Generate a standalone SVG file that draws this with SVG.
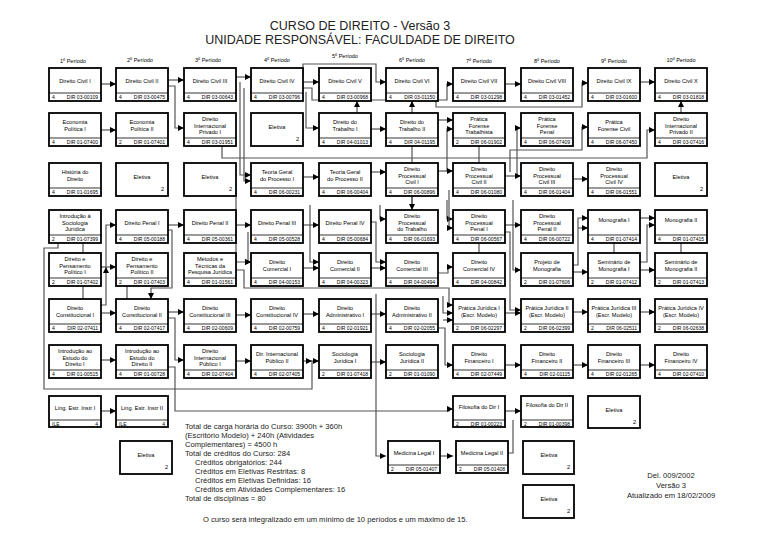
<svg xmlns="http://www.w3.org/2000/svg" width="768" height="542" viewBox="0 0 768 542">
<style>
text{font-family:"Liberation Sans",Arial,sans-serif;fill:#000}
.b{fill:#fff;stroke:#000;stroke-width:1.8}
.d{stroke:#000;stroke-width:0.8}
.t{font-size:5.6px;text-anchor:middle}
.k{font-size:5px}
.c{font-size:5px;text-anchor:end}
.e{font-size:5.6px;text-anchor:end}
.p{font-size:5.5px;text-anchor:middle}
.h{font-size:12.5px;text-anchor:middle;fill:#222}
.i{font-size:7.6px;fill:#222}
.w path{fill:none;stroke:#555;stroke-width:1.2;marker-end:url(#a)}
.w path.n{marker-end:none}
</style>
<defs><marker id="a" viewBox="0 0 6 6" refX="6" refY="3" markerWidth="5" markerHeight="5" orient="auto"><path d="M0,0L6,3L0,6Z" fill="#000"/></marker></defs>
<rect width="768" height="542" fill="#fff"/>
<text class="h" x="360" y="30">CURSO DE DIREITO - Versão 3</text>
<text class="h" x="360" y="44">UNIDADE RESPONSÁVEL: FACULDADE DE DIREITO</text>
<g id="periods">
<text class="p" x="73" y="63">1º Período</text><text class="p" x="140" y="62">2º Período</text><text class="p" x="208" y="62">3º Período</text><text class="p" x="277" y="62">4º Período</text><text class="p" x="345" y="58">5º Período</text><text class="p" x="412" y="62">6º Período</text><text class="p" x="479" y="63">7º Período</text><text class="p" x="547" y="63">8º Período</text><text class="p" x="614" y="63">9º Período</text><text class="p" x="681" y="62">10º Período</text>
</g>
<g id="connectors" class="w">
<path d="M101 84H116"/><path d="M168 80H184"/><path d="M236 77H251"/><path d="M303 82H319"/><path d="M303 75V64H376V82H386"/><path d="M303 88H312V100H447V84H453"/><path d="M505 84H521"/><path d="M430 95H436V107H582V83H588"/><path d="M640 82H655"/>
<path d="M101 130H116"/><path d="M168 86H175V128H184"/><path d="M222 146V158H647V130H655"/><path d="M681 113V101"/><path d="M306 92V128H319"/><path d="M371 129H386"/><path d="M357 113V101"/><path d="M438 120H453"/><path d="M447 172V129H453"/><path class="n" d="M479 146V163"/><path d="M517 176V128H521"/><path d="M510 172V150H582V127H588"/><path d="M412 205V101"/>
<path d="M240 82V175H251"/><path d="M244 88V181H251"/><path d="M303 177H319"/><path d="M371 172H386"/><path d="M438 171H453"/><path d="M505 176H521"/><path d="M573 179H588"/>
<path class="n" d="M83 243V253"/><path d="M101 267H116"/><path d="M106 267V225H116"/><path d="M168 225H184"/><path d="M236 225H251"/><path d="M303 225H319"/><path d="M371 222H376V262H386"/><path d="M248 232V262H251"/><path d="M310 205V262H319"/><path d="M412 196V210"/><path d="M380 205V219H386"/><path d="M447 200V219H453"/><path d="M449 190V228H453"/><path d="M505 225H521"/><path d="M505 232H510V310H521"/><path class="n" d="M479 243V253"/><path d="M640 218H655"/><path d="M573 265H578V218H588"/><path d="M578 228H588"/><path class="n" d="M614 253V243"/><path class="n" d="M681 253V243"/><path d="M640 270H655"/><path d="M640 262H647V225H655"/>
<path d="M236 270H244V288H449V305H453"/><path d="M303 268H319"/><path d="M371 268H386"/><path d="M438 273H448V267H453"/><path d="M513 200V270H521"/><path d="M573 272H588"/><path d="M230 190H236V262H251"/>
<path class="n" d="M83 286V299"/><path d="M101 313H116"/><path d="M101 305H106V267"/><path d="M168 230H172V288H151V299"/><path class="n" d="M127 286V299"/><path d="M168 312H184"/><path d="M236 315H251"/><path d="M303 314H319"/><path d="M371 314H386"/><path d="M438 328H445V365H453"/><path d="M443 296V313H453"/><path d="M443 320H453"/><path d="M505 313H521"/><path d="M573 312H588"/><path d="M640 312H655"/>
<path d="M101 360H116"/><path d="M168 318H175V360H184"/><path d="M236 361H251"/><path d="M168 367H175V411H449V409H453"/><path d="M58 243V248H44V389H312V361H319"/><path d="M303 361H312"/><path d="M371 362H386"/><path d="M505 365H521"/><path d="M573 365H588"/><path d="M640 365H655"/>
<path d="M101 411H116"/><path d="M505 411H521"/><path d="M376 294V456H386"/><path d="M438 456H453"/><path class="n" d="M505 453H513V420"/>
</g>
<g id="r1c1" transform="translate(49,68)"><rect class="b" width="52" height="33"/><line class="d" x1="0" y1="25" x2="52" y2="25"/><text class="t" x="26" y="15">Direito Civil I</text><text class="k" x="3" y="31">4</text><text class="c" x="49" y="31">DIR 03-00109</text></g>
<g id="r1c2" transform="translate(116,68)"><rect class="b" width="52" height="33"/><line class="d" x1="0" y1="25" x2="52" y2="25"/><text class="t" x="26" y="15">Direito Civil II</text><text class="k" x="3" y="31">4</text><text class="c" x="49" y="31">DIR 03-00475</text></g>
<g id="r1c3" transform="translate(184,68)"><rect class="b" width="52" height="33"/><line class="d" x1="0" y1="25" x2="52" y2="25"/><text class="t" x="26" y="15">Direito Civil III</text><text class="k" x="3" y="31">4</text><text class="c" x="49" y="31">DIR 03-00643</text></g>
<g id="r1c4" transform="translate(251,68)"><rect class="b" width="52" height="33"/><line class="d" x1="0" y1="25" x2="52" y2="25"/><text class="t" x="26" y="15">Direito Civil IV</text><text class="k" x="3" y="31">4</text><text class="c" x="49" y="31">DIR 03-00796</text></g>
<g id="r1c5" transform="translate(319,68)"><rect class="b" width="52" height="33"/><line class="d" x1="0" y1="25" x2="52" y2="25"/><text class="t" x="26" y="15">Direito Civil V</text><text class="k" x="3" y="31">4</text><text class="c" x="49" y="31">DIR 03-00968</text></g>
<g id="r1c6" transform="translate(386,68)"><rect class="b" width="52" height="33"/><line class="d" x1="0" y1="25" x2="52" y2="25"/><text class="t" x="26" y="15">Direito Civil VI</text><text class="k" x="3" y="31">4</text><text class="c" x="49" y="31">DIR 03-01150</text></g>
<g id="r1c7" transform="translate(453,68)"><rect class="b" width="52" height="33"/><line class="d" x1="0" y1="25" x2="52" y2="25"/><text class="t" x="26" y="15">Direito Civil VII</text><text class="k" x="3" y="31">4</text><text class="c" x="49" y="31">DIR 03-01298</text></g>
<g id="r1c8" transform="translate(521,68)"><rect class="b" width="52" height="33"/><line class="d" x1="0" y1="25" x2="52" y2="25"/><text class="t" x="26" y="15">Direito Civil VIII</text><text class="k" x="3" y="31">4</text><text class="c" x="49" y="31">DIR 03-01452</text></g>
<g id="r1c9" transform="translate(588,68)"><rect class="b" width="52" height="33"/><line class="d" x1="0" y1="25" x2="52" y2="25"/><text class="t" x="26" y="15">Direito Civil IX</text><text class="k" x="3" y="31">4</text><text class="c" x="49" y="31">DIR 03-01600</text></g>
<g id="r1c10" transform="translate(655,68)"><rect class="b" width="52" height="33"/><line class="d" x1="0" y1="25" x2="52" y2="25"/><text class="t" x="26" y="15">Direito Civil X</text><text class="k" x="3" y="31">4</text><text class="c" x="49" y="31">DIR 03-01818</text></g>
<g id="r2c1" transform="translate(49,113)"><rect class="b" width="52" height="33"/><line class="d" x1="0" y1="25" x2="52" y2="25"/><text class="t" x="26" y="11">Economia</text><text class="t" x="26" y="18">Política I</text><text class="k" x="3" y="31">4</text><text class="c" x="49" y="31">DIR 01-07400</text></g>
<g id="r2c2" transform="translate(116,113)"><rect class="b" width="52" height="33"/><line class="d" x1="0" y1="25" x2="52" y2="25"/><text class="t" x="26" y="11">Economia</text><text class="t" x="26" y="18">Política II</text><text class="k" x="3" y="31">2</text><text class="c" x="49" y="31">DIR 01-07401</text></g>
<g id="r2c3" transform="translate(184,113)"><rect class="b" width="52" height="33"/><line class="d" x1="0" y1="25" x2="52" y2="25"/><text class="t" x="26" y="8">Direito</text><text class="t" x="26" y="14.5">Internacional</text><text class="t" x="26" y="21">Privado I</text><text class="k" x="3" y="31">4</text><text class="c" x="49" y="31">DIR 03-01951</text></g>
<g id="r2c4" transform="translate(251,113)"><rect class="b" width="52" height="33"/><text class="t" x="26" y="16">Eletiva</text><text class="e" x="48" y="28">2</text></g>
<g id="r2c5" transform="translate(319,113)"><rect class="b" width="52" height="33"/><line class="d" x1="0" y1="25" x2="52" y2="25"/><text class="t" x="26" y="11">Direito do</text><text class="t" x="26" y="18">Trabalho I</text><text class="k" x="3" y="31">4</text><text class="c" x="49" y="31">DIR 04-01013</text></g>
<g id="r2c6" transform="translate(386,113)"><rect class="b" width="52" height="33"/><line class="d" x1="0" y1="25" x2="52" y2="25"/><text class="t" x="26" y="11">Direito do</text><text class="t" x="26" y="18">Trabalho II</text><text class="k" x="3" y="31">4</text><text class="c" x="49" y="31">DIR 04-01195</text></g>
<g id="r2c7" transform="translate(453,113)"><rect class="b" width="52" height="33"/><line class="d" x1="0" y1="25" x2="52" y2="25"/><text class="t" x="26" y="8">Prática</text><text class="t" x="26" y="14.5">Forense</text><text class="t" x="26" y="21">Trabalhista</text><text class="k" x="3" y="31">2</text><text class="c" x="49" y="31">DIR 06-01902</text></g>
<g id="r2c8" transform="translate(521,113)"><rect class="b" width="52" height="33"/><line class="d" x1="0" y1="25" x2="52" y2="25"/><text class="t" x="26" y="8">Prática</text><text class="t" x="26" y="14.5">Forense</text><text class="t" x="26" y="21">Penal</text><text class="k" x="3" y="31">4</text><text class="c" x="49" y="31">DIR 06-07409</text></g>
<g id="r2c9" transform="translate(588,113)"><rect class="b" width="52" height="33"/><line class="d" x1="0" y1="25" x2="52" y2="25"/><text class="t" x="26" y="11">Prática</text><text class="t" x="26" y="18">Forense Civil</text><text class="k" x="3" y="31">4</text><text class="c" x="49" y="31">DIR 06-07450</text></g>
<g id="r2c10" transform="translate(655,113)"><rect class="b" width="52" height="33"/><line class="d" x1="0" y1="25" x2="52" y2="25"/><text class="t" x="26" y="8">Direito</text><text class="t" x="26" y="14.5">Internacional</text><text class="t" x="26" y="21">Privado II</text><text class="k" x="3" y="31">4</text><text class="c" x="49" y="31">DIR 03-07416</text></g>
<g id="r3c1" transform="translate(49,163)"><rect class="b" width="52" height="33"/><line class="d" x1="0" y1="25" x2="52" y2="25"/><text class="t" x="26" y="11">História do</text><text class="t" x="26" y="18">Direito</text><text class="k" x="3" y="31">4</text><text class="c" x="49" y="31">DIR 01-01695</text></g>
<g id="r3c2" transform="translate(116,163)"><rect class="b" width="52" height="33"/><text class="t" x="26" y="16">Eletiva</text><text class="e" x="48" y="28">2</text></g>
<g id="r3c3" transform="translate(184,163)"><rect class="b" width="52" height="33"/><text class="t" x="26" y="16">Eletiva</text><text class="e" x="48" y="28">2</text></g>
<g id="r3c4" transform="translate(251,163)"><rect class="b" width="52" height="33"/><line class="d" x1="0" y1="25" x2="52" y2="25"/><text class="t" x="26" y="11">Teoria Geral</text><text class="t" x="26" y="18">do Processo I</text><text class="k" x="3" y="31">4</text><text class="c" x="49" y="31">DIR 06-00231</text></g>
<g id="r3c5" transform="translate(319,163)"><rect class="b" width="52" height="33"/><line class="d" x1="0" y1="25" x2="52" y2="25"/><text class="t" x="26" y="11">Teoria Geral</text><text class="t" x="26" y="18">do Processo II</text><text class="k" x="3" y="31">4</text><text class="c" x="49" y="31">DIR 06-00404</text></g>
<g id="r3c6" transform="translate(386,163)"><rect class="b" width="52" height="33"/><line class="d" x1="0" y1="25" x2="52" y2="25"/><text class="t" x="26" y="8">Direito</text><text class="t" x="26" y="14.5">Processual</text><text class="t" x="26" y="21">Civil I</text><text class="k" x="3" y="31">4</text><text class="c" x="49" y="31">DIR 06-00896</text></g>
<g id="r3c7" transform="translate(453,163)"><rect class="b" width="52" height="33"/><line class="d" x1="0" y1="25" x2="52" y2="25"/><text class="t" x="26" y="8">Direito</text><text class="t" x="26" y="14.5">Processual</text><text class="t" x="26" y="21">Civil II</text><text class="k" x="3" y="31">4</text><text class="c" x="49" y="31">DIR 06-01080</text></g>
<g id="r3c8" transform="translate(521,163)"><rect class="b" width="52" height="33"/><line class="d" x1="0" y1="25" x2="52" y2="25"/><text class="t" x="26" y="8">Direito</text><text class="t" x="26" y="14.5">Processual</text><text class="t" x="26" y="21">Civil III</text><text class="k" x="3" y="31">4</text><text class="c" x="49" y="31">DIR 06-01404</text></g>
<g id="r3c9" transform="translate(588,163)"><rect class="b" width="52" height="33"/><line class="d" x1="0" y1="25" x2="52" y2="25"/><text class="t" x="26" y="8">Direito</text><text class="t" x="26" y="14.5">Processual</text><text class="t" x="26" y="21">Civil IV</text><text class="k" x="3" y="31">4</text><text class="c" x="49" y="31">DIR 06-01551</text></g>
<g id="r3c10" transform="translate(655,163)"><rect class="b" width="52" height="33"/><text class="t" x="26" y="16">Eletiva</text><text class="e" x="48" y="28">2</text></g>
<g id="r4c1" transform="translate(49,210)"><rect class="b" width="52" height="33"/><line class="d" x1="0" y1="25" x2="52" y2="25"/><text class="t" x="26" y="8">Introdução à</text><text class="t" x="26" y="14.5">Sociologia</text><text class="t" x="26" y="21">Jurídica</text><text class="k" x="3" y="31">2</text><text class="c" x="49" y="31">DIR 01-07399</text></g>
<g id="r4c2" transform="translate(116,210)"><rect class="b" width="52" height="33"/><line class="d" x1="0" y1="25" x2="52" y2="25"/><text class="t" x="26" y="15">Direito Penal I</text><text class="k" x="3" y="31">4</text><text class="c" x="49" y="31">DIR 05-00188</text></g>
<g id="r4c3" transform="translate(184,210)"><rect class="b" width="52" height="33"/><line class="d" x1="0" y1="25" x2="52" y2="25"/><text class="t" x="26" y="15">Direito Penal II</text><text class="k" x="3" y="31">4</text><text class="c" x="49" y="31">DIR 05-00361</text></g>
<g id="r4c4" transform="translate(251,210)"><rect class="b" width="52" height="33"/><line class="d" x1="0" y1="25" x2="52" y2="25"/><text class="t" x="26" y="15">Direito Penal III</text><text class="k" x="3" y="31">4</text><text class="c" x="49" y="31">DIR 05-00528</text></g>
<g id="r4c5" transform="translate(319,210)"><rect class="b" width="52" height="33"/><line class="d" x1="0" y1="25" x2="52" y2="25"/><text class="t" x="26" y="15">Direito Penal IV</text><text class="k" x="3" y="31">4</text><text class="c" x="49" y="31">DIR 05-00684</text></g>
<g id="r4c6" transform="translate(386,210)"><rect class="b" width="52" height="33"/><line class="d" x1="0" y1="25" x2="52" y2="25"/><text class="t" x="26" y="8">Direito</text><text class="t" x="26" y="14.5">Processual</text><text class="t" x="26" y="21">do Trabalho</text><text class="k" x="3" y="31">4</text><text class="c" x="49" y="31">DIR 06-01693</text></g>
<g id="r4c7" transform="translate(453,210)"><rect class="b" width="52" height="33"/><line class="d" x1="0" y1="25" x2="52" y2="25"/><text class="t" x="26" y="8">Direito</text><text class="t" x="26" y="14.5">Processual</text><text class="t" x="26" y="21">Penal I</text><text class="k" x="3" y="31">4</text><text class="c" x="49" y="31">DIR 06-00567</text></g>
<g id="r4c8" transform="translate(521,210)"><rect class="b" width="52" height="33"/><line class="d" x1="0" y1="25" x2="52" y2="25"/><text class="t" x="26" y="8">Direito</text><text class="t" x="26" y="14.5">Processual</text><text class="t" x="26" y="21">Penal II</text><text class="k" x="3" y="31">4</text><text class="c" x="49" y="31">DIR 06-00722</text></g>
<g id="r4c9" transform="translate(588,210)"><rect class="b" width="52" height="33"/><line class="d" x1="0" y1="25" x2="52" y2="25"/><text class="t" x="26" y="12">Monografia I</text><text class="k" x="3" y="31">4</text><text class="c" x="49" y="31">DIR 01-07414</text></g>
<g id="r4c10" transform="translate(655,210)"><rect class="b" width="52" height="33"/><line class="d" x1="0" y1="25" x2="52" y2="25"/><text class="t" x="26" y="12">Monografia II</text><text class="k" x="3" y="31">4</text><text class="c" x="49" y="31">DIR 01-07415</text></g>
<g id="r5c1" transform="translate(49,253)"><rect class="b" width="52" height="33"/><line class="d" x1="0" y1="25" x2="52" y2="25"/><text class="t" x="26" y="8">Direito e</text><text class="t" x="26" y="14.5">Pensamento</text><text class="t" x="26" y="21">Político I</text><text class="k" x="3" y="31">2</text><text class="c" x="49" y="31">DIR 01-07402</text></g>
<g id="r5c2" transform="translate(116,253)"><rect class="b" width="52" height="33"/><line class="d" x1="0" y1="25" x2="52" y2="25"/><text class="t" x="26" y="8">Direito e</text><text class="t" x="26" y="14.5">Pensamento</text><text class="t" x="26" y="21">Político II</text><text class="k" x="3" y="31">2</text><text class="c" x="49" y="31">DIR 01-07403</text></g>
<g id="r5c3" transform="translate(184,253)"><rect class="b" width="52" height="33"/><line class="d" x1="0" y1="25" x2="52" y2="25"/><text class="t" x="26" y="8">Métodos e</text><text class="t" x="26" y="14.5">Técnicas da</text><text class="t" x="26" y="21">Pesquisa Jurídica</text><text class="k" x="3" y="31">4</text><text class="c" x="49" y="31">DIR 01-01561</text></g>
<g id="r5c4" transform="translate(251,253)"><rect class="b" width="52" height="33"/><line class="d" x1="0" y1="25" x2="52" y2="25"/><text class="t" x="26" y="11">Direito</text><text class="t" x="26" y="18">Comercial I</text><text class="k" x="3" y="31">4</text><text class="c" x="49" y="31">DIR 04-00153</text></g>
<g id="r5c5" transform="translate(319,253)"><rect class="b" width="52" height="33"/><line class="d" x1="0" y1="25" x2="52" y2="25"/><text class="t" x="26" y="11">Direito</text><text class="t" x="26" y="18">Comercial II</text><text class="k" x="3" y="31">4</text><text class="c" x="49" y="31">DIR 04-00323</text></g>
<g id="r5c6" transform="translate(386,253)"><rect class="b" width="52" height="33"/><line class="d" x1="0" y1="25" x2="52" y2="25"/><text class="t" x="26" y="11">Direito</text><text class="t" x="26" y="18">Comercial III</text><text class="k" x="3" y="31">4</text><text class="c" x="49" y="31">DIR 04-00494</text></g>
<g id="r5c7" transform="translate(453,253)"><rect class="b" width="52" height="33"/><line class="d" x1="0" y1="25" x2="52" y2="25"/><text class="t" x="26" y="11">Direito</text><text class="t" x="26" y="18">Comercial IV</text><text class="k" x="3" y="31">4</text><text class="c" x="49" y="31">DIR 04-00842</text></g>
<g id="r5c8" transform="translate(521,253)"><rect class="b" width="52" height="33"/><line class="d" x1="0" y1="25" x2="52" y2="25"/><text class="t" x="26" y="11">Projeto de</text><text class="t" x="26" y="18">Monografia</text><text class="k" x="3" y="31">2</text><text class="c" x="49" y="31">DIR 01-07606</text></g>
<g id="r5c9" transform="translate(588,253)"><rect class="b" width="52" height="33"/><line class="d" x1="0" y1="25" x2="52" y2="25"/><text class="t" x="26" y="11">Seminário de</text><text class="t" x="26" y="18">Monografia I</text><text class="k" x="3" y="31">2</text><text class="c" x="49" y="31">DIR 01-07412</text></g>
<g id="r5c10" transform="translate(655,253)"><rect class="b" width="52" height="33"/><line class="d" x1="0" y1="25" x2="52" y2="25"/><text class="t" x="26" y="11">Seminário de</text><text class="t" x="26" y="18">Monografia II</text><text class="k" x="3" y="31">2</text><text class="c" x="49" y="31">DIR 01-07413</text></g>
<g id="r6c1" transform="translate(49,299)"><rect class="b" width="52" height="33"/><line class="d" x1="0" y1="25" x2="52" y2="25"/><text class="t" x="26" y="11">Direito</text><text class="t" x="26" y="18">Constitucional I</text><text class="k" x="3" y="31">4</text><text class="c" x="49" y="31">DIR 02-07411</text></g>
<g id="r6c2" transform="translate(116,299)"><rect class="b" width="52" height="33"/><line class="d" x1="0" y1="25" x2="52" y2="25"/><text class="t" x="26" y="11">Direito</text><text class="t" x="26" y="18">Constitucional II</text><text class="k" x="3" y="31">4</text><text class="c" x="49" y="31">DIR 02-07417</text></g>
<g id="r6c3" transform="translate(184,299)"><rect class="b" width="52" height="33"/><line class="d" x1="0" y1="25" x2="52" y2="25"/><text class="t" x="26" y="11">Direito</text><text class="t" x="26" y="18">Constitucional III</text><text class="k" x="3" y="31">4</text><text class="c" x="49" y="31">DIR 02-00609</text></g>
<g id="r6c4" transform="translate(251,299)"><rect class="b" width="52" height="33"/><line class="d" x1="0" y1="25" x2="52" y2="25"/><text class="t" x="26" y="11">Direito</text><text class="t" x="26" y="18">Constitucional IV</text><text class="k" x="3" y="31">4</text><text class="c" x="49" y="31">DIR 02-00759</text></g>
<g id="r6c5" transform="translate(319,299)"><rect class="b" width="52" height="33"/><line class="d" x1="0" y1="25" x2="52" y2="25"/><text class="t" x="26" y="11">Direito</text><text class="t" x="26" y="18">Administrativo I</text><text class="k" x="3" y="31">4</text><text class="c" x="49" y="31">DIR 02-01921</text></g>
<g id="r6c6" transform="translate(386,299)"><rect class="b" width="52" height="33"/><line class="d" x1="0" y1="25" x2="52" y2="25"/><text class="t" x="26" y="11">Direito</text><text class="t" x="26" y="18">Administrativo II</text><text class="k" x="3" y="31">4</text><text class="c" x="49" y="31">DIR 02-02055</text></g>
<g id="r6c7" transform="translate(453,299)"><rect class="b" width="52" height="33"/><line class="d" x1="0" y1="25" x2="52" y2="25"/><text class="t" x="26" y="11">Prática Jurídica I</text><text class="t" x="26" y="18">(Escr. Modelo)</text><text class="k" x="3" y="31">2</text><text class="c" x="49" y="31">DIR 06-02297</text></g>
<g id="r6c8" transform="translate(521,299)"><rect class="b" width="52" height="33"/><line class="d" x1="0" y1="25" x2="52" y2="25"/><text class="t" x="26" y="11">Prática Jurídica II</text><text class="t" x="26" y="18">(Escr. Modelo)</text><text class="k" x="3" y="31">2</text><text class="c" x="49" y="31">DIR 06-02399</text></g>
<g id="r6c9" transform="translate(588,299)"><rect class="b" width="52" height="33"/><line class="d" x1="0" y1="25" x2="52" y2="25"/><text class="t" x="26" y="11">Prática Jurídica III</text><text class="t" x="26" y="18">(Escr. Modelo)</text><text class="k" x="3" y="31">2</text><text class="c" x="49" y="31">DIR 06-02511</text></g>
<g id="r6c10" transform="translate(655,299)"><rect class="b" width="52" height="33"/><line class="d" x1="0" y1="25" x2="52" y2="25"/><text class="t" x="26" y="11">Prática Jurídica IV</text><text class="t" x="26" y="18">(Escr. Modelo)</text><text class="k" x="3" y="31">2</text><text class="c" x="49" y="31">DIR 06-02638</text></g>
<g id="r7c1" transform="translate(49,345)"><rect class="b" width="52" height="33"/><line class="d" x1="0" y1="25" x2="52" y2="25"/><text class="t" x="26" y="8">Introdução ao</text><text class="t" x="26" y="14.5">Estudo do</text><text class="t" x="26" y="21">Direito I</text><text class="k" x="3" y="31">4</text><text class="c" x="49" y="31">DIR 01-00515</text></g>
<g id="r7c2" transform="translate(116,345)"><rect class="b" width="52" height="33"/><line class="d" x1="0" y1="25" x2="52" y2="25"/><text class="t" x="26" y="8">Introdução ao</text><text class="t" x="26" y="14.5">Estudo do</text><text class="t" x="26" y="21">Direito II</text><text class="k" x="3" y="31">4</text><text class="c" x="49" y="31">DIR 01-00728</text></g>
<g id="r7c3" transform="translate(184,345)"><rect class="b" width="52" height="33"/><line class="d" x1="0" y1="25" x2="52" y2="25"/><text class="t" x="26" y="8">Direito</text><text class="t" x="26" y="14.5">Internacional</text><text class="t" x="26" y="21">Público I</text><text class="k" x="3" y="31">4</text><text class="c" x="49" y="31">DIR 02-07404</text></g>
<g id="r7c4" transform="translate(251,345)"><rect class="b" width="52" height="33"/><line class="d" x1="0" y1="25" x2="52" y2="25"/><text class="t" x="26" y="11">Dir. Internacional</text><text class="t" x="26" y="18">Público II</text><text class="k" x="3" y="31">4</text><text class="c" x="49" y="31">DIR 02-07405</text></g>
<g id="r7c5" transform="translate(319,345)"><rect class="b" width="52" height="33"/><line class="d" x1="0" y1="25" x2="52" y2="25"/><text class="t" x="26" y="11">Sociologia</text><text class="t" x="26" y="18">Jurídica I</text><text class="k" x="3" y="31">2</text><text class="c" x="49" y="31">DIR 01-07418</text></g>
<g id="r7c6" transform="translate(386,345)"><rect class="b" width="52" height="33"/><line class="d" x1="0" y1="25" x2="52" y2="25"/><text class="t" x="26" y="11">Sociologia</text><text class="t" x="26" y="18">Jurídica II</text><text class="k" x="3" y="31">2</text><text class="c" x="49" y="31">DIR 01-01090</text></g>
<g id="r7c7" transform="translate(453,345)"><rect class="b" width="52" height="33"/><line class="d" x1="0" y1="25" x2="52" y2="25"/><text class="t" x="26" y="11">Direito</text><text class="t" x="26" y="18">Financeiro I</text><text class="k" x="3" y="31">4</text><text class="c" x="49" y="31">DIR 02-07449</text></g>
<g id="r7c8" transform="translate(521,345)"><rect class="b" width="52" height="33"/><line class="d" x1="0" y1="25" x2="52" y2="25"/><text class="t" x="26" y="11">Direito</text><text class="t" x="26" y="18">Financeiro II</text><text class="k" x="3" y="31">4</text><text class="c" x="49" y="31">DIR 02-01115</text></g>
<g id="r7c9" transform="translate(588,345)"><rect class="b" width="52" height="33"/><line class="d" x1="0" y1="25" x2="52" y2="25"/><text class="t" x="26" y="11">Direito</text><text class="t" x="26" y="18">Financeiro III</text><text class="k" x="3" y="31">4</text><text class="c" x="49" y="31">DIR 02-01265</text></g>
<g id="r7c10" transform="translate(655,345)"><rect class="b" width="52" height="33"/><line class="d" x1="0" y1="25" x2="52" y2="25"/><text class="t" x="26" y="11">Direito</text><text class="t" x="26" y="18">Financeiro IV</text><text class="k" x="3" y="31">4</text><text class="c" x="49" y="31">DIR 02-07410</text></g>
<g id="ling1" transform="translate(49,396)"><rect class="b" width="52" height="31"/><line class="d" x1="0" y1="24" x2="52" y2="24"/><text class="t" x="26" y="14">Ling. Estr. Instr I</text><text class="k" x="3" y="29.5">ILE</text><text class="c" x="49" y="29.5">4</text></g>
<g id="ling2" transform="translate(116,396)"><rect class="b" width="52" height="31"/><line class="d" x1="0" y1="24" x2="52" y2="24"/><text class="t" x="26" y="14">Ling. Estr. Instr II</text><text class="k" x="3" y="29.5">ILE</text><text class="c" x="49" y="29.5">4</text></g>
<g id="fil1" transform="translate(453,396)"><rect class="b" width="52" height="31"/><line class="d" x1="0" y1="24" x2="52" y2="24"/><text class="t" x="26" y="13">Filosofia do Dir I</text><text class="k" x="3" y="29.5">2</text><text class="c" x="49" y="29.5">DIR 01-00223</text></g>
<g id="fil2" transform="translate(521,396)"><rect class="b" width="52" height="31"/><line class="d" x1="0" y1="24" x2="52" y2="24"/><text class="t" x="26" y="11">Filosofia do Dir II</text><text class="k" x="3" y="29.5">2</text><text class="c" x="49" y="29.5">DIR 01-00398</text></g>
<g id="elet9" transform="translate(588,396)"><rect class="b" width="52" height="32"/><text class="t" x="26" y="16">Eletiva</text><text class="e" x="48" y="28">2</text></g>
<g id="eletL" transform="translate(120,441)"><rect class="b" width="52" height="33"/><text class="t" x="26" y="16">Eletiva</text><text class="e" x="48" y="28">2</text></g>
<g id="med1" transform="translate(388,441)"><rect class="b" width="52" height="32"/><line class="d" x1="0" y1="24" x2="52" y2="24"/><text class="t" x="26" y="14">Medicina Legal I</text><text class="k" x="3" y="30">2</text><text class="c" x="49" y="30">DIR 05-01407</text></g>
<g id="med2" transform="translate(456,441)"><rect class="b" width="52" height="32"/><line class="d" x1="0" y1="24" x2="52" y2="24"/><text class="t" x="26" y="14">Medicina Legal II</text><text class="k" x="3" y="30">2</text><text class="c" x="49" y="30">DIR 05-01408</text></g>
<g id="eletA" transform="translate(523,441)"><rect class="b" width="51" height="33"/><text class="t" x="26" y="16">Eletiva</text><text class="e" x="47" y="28">2</text></g>
<g id="eletB" transform="translate(523,485)"><rect class="b" width="51" height="33"/><text class="t" x="26" y="16">Eletiva</text><text class="e" x="47" y="28">2</text></g>
<g id="info">
<text class="i" x="185" y="429">Total de carga horária do Curso: 3900h + 360h</text>
<text class="i" x="185" y="438">(Escritório Modelo) + 240h (Atividades</text>
<text class="i" x="185" y="447">Complementares) = 4500 h</text>
<text class="i" x="185" y="456">Total de créditos do Curso: 284</text>
<text class="i" x="195" y="465">Créditos obrigatórios: 244</text>
<text class="i" x="195" y="474">Créditos  em Eletivas Restritas: 8</text>
<text class="i" x="195" y="483">Créditos em Eletivas Definidas: 16</text>
<text class="i" x="195" y="492">Créditos em Atividades Complementares: 16</text>
<text class="i" x="185" y="501">Total de disciplinas = 80</text>
<text class="i" x="203" y="522">O curso será integralizado em  um  mínimo de 10 períodos e um máximo de 15.</text>
<text class="i" x="671" y="478" text-anchor="middle">Del. 009/2002</text>
<text class="i" x="671" y="488" text-anchor="middle">Versão 3</text>
<text class="i" x="671" y="498" text-anchor="middle">Atualizado em 18/02/2009</text>
</g>
</svg>
